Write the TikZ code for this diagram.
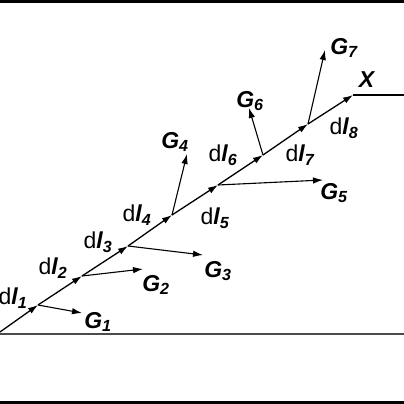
\documentclass[tikz,border=0pt]{standalone}
\usepackage{fontspec}
\setmainfont{Liberation Sans}
\usetikzlibrary{arrows.meta}
\newcommand{\dlab}[1]{d\textbf{\textit{l\textsubscript{#1}}}}
\newcommand{\glab}[1]{\textbf{\textit{G\textsubscript{#1}}}}
\begin{document}
\begin{tikzpicture}[x=1pt,y=-1pt,
				seg/.style={line width=1.3pt, -{Latex[length=10pt,width=6.5pt]}},
				force/.style={line width=1.1pt, -{Latex[length=10pt,width=6.5pt]}},
				lbl/.style={font=\fontsize{23}{25}\selectfont, inner sep=0pt},
				]
				\useasboundingbox (0,0) rectangle (404,404);
				% frame bars and ground line
				\fill (0,0) rectangle (404,3);
				\fill (0,401) rectangle (404,404);
				\draw[gray!60!black, line width=1.4pt] (0,334) -- (404,334);
				
				% points on the slip line
				\coordinate (p0) at (0,332);
				\coordinate (p1) at (38,305);
				\coordinate (p2) at (82,276);
				\coordinate (p3) at (128,246);
				\coordinate (p4) at (172,215);
				\coordinate (p5) at (218,185);
				\coordinate (p6) at (263,155);
				\coordinate (p7) at (308,124);
				\coordinate (p8) at (353,95);
				\coordinate (top) at (404,95);
				
				\draw[seg] (p0) -- (p1);
				\draw[seg] (p1) -- (p2);
				\draw[seg] (p2) -- (p3);
				\draw[seg] (p3) -- (p4);
				\draw[seg] (p4) -- (p5);
				\draw[seg] (p5) -- (p6);
				\draw[seg] (p6) -- (p7);
				\draw[seg] (p7) -- (p8);
				\draw[line width=1.1pt] (p8) -- (top);
				
				% forces
				\coordinate (f1) at (82,313);
				\coordinate (f2) at (143,269);
				\coordinate (f3) at (203,255);
				\coordinate (f4) at (187,154);
				\coordinate (f5) at (323,180);
				\coordinate (f6) at (249,108);
				\coordinate (f7) at (325,50);
				\draw[force] (p1) -- (f1);
				\draw[force] (p2) -- (f2);
				\draw[force] (p3) -- (f3);
				\draw[force] (p4) -- (f4);
				\draw[force] (p5) -- (f5);
				\draw[force] (p6) -- (f6);
				\draw[force] (p7) -- (f7);
				
				\node[lbl] (g1) at (98,322) {\glab{1}};
				\node[lbl] (g2) at (156,285) {\glab{2}};
				\node[lbl] (g3) at (218,271) {\glab{3}};
				\node[lbl] (g4) at (175,142) {\glab{4}};
				\node[lbl] (g5) at (334,193) {\glab{5}};
				\node[lbl] (g6) at (250,101) {\glab{6}};
				\node[lbl] (g7) at (344,48) {\glab{7}};
				\node[lbl] (x) at (367,80) {\textbf{\textit{X}}};
				
				\node[lbl] (d1) at (13,298) {\dlab{1}};
				\node[lbl] (d2) at (53,268) {\dlab{2}};
				\node[lbl] (d3) at (98,242) {\dlab{3}};
				\node[lbl] (d4) at (137,215) {\dlab{4}};
				\node[lbl] (d5) at (215,218) {\dlab{5}};
				\node[lbl] (d6) at (223,155) {\dlab{6}};
				\node[lbl] (d7) at (300,155) {\dlab{7}};
				\node[lbl] (d8) at (344,128) {\dlab{8}};
			\end{tikzpicture}
\end{document}
